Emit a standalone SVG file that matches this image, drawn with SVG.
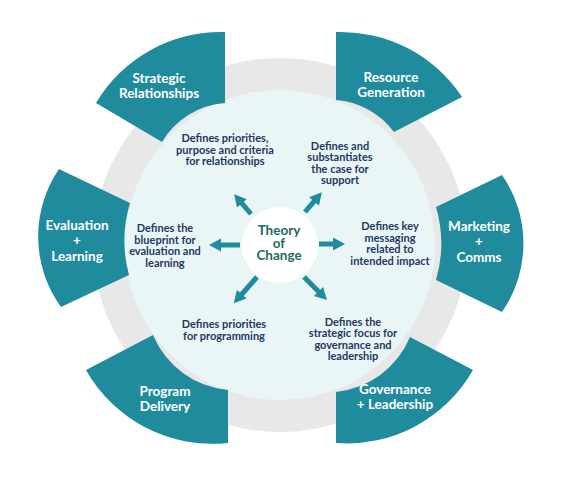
<svg xmlns="http://www.w3.org/2000/svg" width="564" height="481" viewBox="0 0 564 481">
<style>
.seg{fill:#218b9e}
.st{font-family:Lato,"Open Sans","DejaVu Sans",sans-serif;font-weight:700;font-size:13.5px;fill:#ffffff;text-anchor:middle}
.dt{font-family:Lato,"Open Sans","DejaVu Sans",sans-serif;font-weight:700;font-size:11px;fill:#1f3864;text-anchor:middle}
.ct{font-family:Lato,"Open Sans","DejaVu Sans",sans-serif;font-weight:700;font-size:13.5px;fill:#226b5e;text-anchor:middle}
.arr{fill:#218b9e}
</style>
<rect width="564" height="481" fill="#ffffff"/>
<g id="background">
<circle cx="280" cy="245" r="187" fill="#e8e8e8"/>
<circle cx="280" cy="245" r="155" fill="#eaf6f5"/>
</g>
<g id="seg-strategic">
<path class="seg" d="M96,103 A145,145 0 0,1 225,32 L225,103 A80,80 0 0,0 162,142 Z"/>
<text class="st" x="159" y="82.5">Strategic</text>
<text class="st" x="159" y="98">Relationships</text>
</g>
<g id="seg-resource">
<path class="seg" d="M336,32 A145,145 0 0,1 462,97 L394,132 A80,80 0 0,0 336,100 Z"/>
<text class="st" x="391" y="81.5">Resource</text>
<text class="st" x="391" y="97">Generation</text>
</g>
<g id="seg-evaluation">
<path class="seg" d="M61,307 A120,120 0 0,1 59,169 L130,203 A130,130 0 0,0 129,275 Z"/>
<text class="st" x="77" y="230">Evaluation</text>
<text class="st" x="77" y="245">+</text>
<text class="st" x="77" y="261">Learning</text>
</g>
<g id="seg-marketing">
<path class="seg" d="M436,207 L502,175 A120,120 0 0,1 502,312 L436,280 A130,130 0 0,0 436,207 Z"/>
<text class="st" x="479" y="231">Marketing</text>
<text class="st" x="479" y="246">+</text>
<text class="st" x="479" y="262">Comms</text>
</g>
<g id="seg-program">
<path class="seg" d="M153,335 A90,90 0 0,0 228,390 L228,443 A145,145 0 0,1 86,370 Z"/>
<text class="st" x="165" y="395.5">Program</text>
<text class="st" x="165" y="411">Delivery</text>
</g>
<g id="seg-governance">
<path class="seg" d="M336,392 A90,90 0 0,0 410,337 L473,370 A145,145 0 0,1 336,443 Z"/>
<text class="st" x="395" y="393.5">Governance</text>
<text class="st" x="395" y="409">+ Leadership</text>
</g>
<g id="center">
<circle cx="280" cy="245" r="38" fill="#ffffff"/>
<text class="ct" x="279" y="235">Theory</text>
<text class="ct" x="279" y="247.5">of</text>
<text class="ct" x="279" y="260">Change</text>
</g>
<g id="connectors">
<path class="arr" transform="translate(251,214) rotate(-130.4)" d="M0,-2.5 H14 V-6.5 L26,0 L14,6.5 V2.5 H0 Z"/>
<path class="arr" transform="translate(305,212) rotate(-49.6)" d="M0,-2.5 H14 V-6.5 L26,0 L14,6.5 V2.5 H0 Z"/>
<path class="arr" transform="translate(240,245) rotate(180)" d="M0,-2.5 H19 V-6.5 L31,0 L19,6.5 V2.5 H0 Z"/>
<path class="arr" transform="translate(319,244)" d="M0,-2.5 H14 V-6.5 L26,0 L14,6.5 V2.5 H0 Z"/>
<path class="arr" transform="translate(257,277) rotate(131.5)" d="M0,-2.5 H23 V-6.5 L35,0 L23,6.5 V2.5 H0 Z"/>
<path class="arr" transform="translate(304,277) rotate(45)" d="M0,-2.5 H20.5 V-6.5 L32.5,0 L20.5,6.5 V2.5 H0 Z"/>
</g>
<g id="label-strategic">
<text class="dt" x="225" y="142">Defines priorities,</text>
<text class="dt" x="225" y="153.5">purpose and criteria</text>
<text class="dt" x="225" y="165">for relationships</text>
</g>
<g id="label-resource">
<text class="dt" x="340" y="149.5">Defines and</text>
<text class="dt" x="340" y="161">substantiates</text>
<text class="dt" x="340" y="172.5">the case for</text>
<text class="dt" x="340" y="184">support</text>
</g>
<g id="label-evaluation">
<text class="dt" x="165" y="232">Defines the</text>
<text class="dt" x="165" y="243.5">blueprint for</text>
<text class="dt" x="165" y="255">evaluation and</text>
<text class="dt" x="165" y="266.5">learning</text>
</g>
<g id="label-marketing">
<text class="dt" x="390" y="230">Defines key</text>
<text class="dt" x="390" y="241.5">messaging</text>
<text class="dt" x="390" y="253">related to</text>
<text class="dt" x="390" y="264.5">intended impact</text>
</g>
<g id="label-program">
<text class="dt" x="224" y="328">Defines priorities</text>
<text class="dt" x="224" y="339.5">for programming</text>
</g>
<g id="label-governance">
<text class="dt" x="353" y="325.5">Defines the</text>
<text class="dt" x="353" y="337">strategic focus for</text>
<text class="dt" x="353" y="348.5">governance and</text>
<text class="dt" x="353" y="360">leadership</text>
</g>
</svg>
